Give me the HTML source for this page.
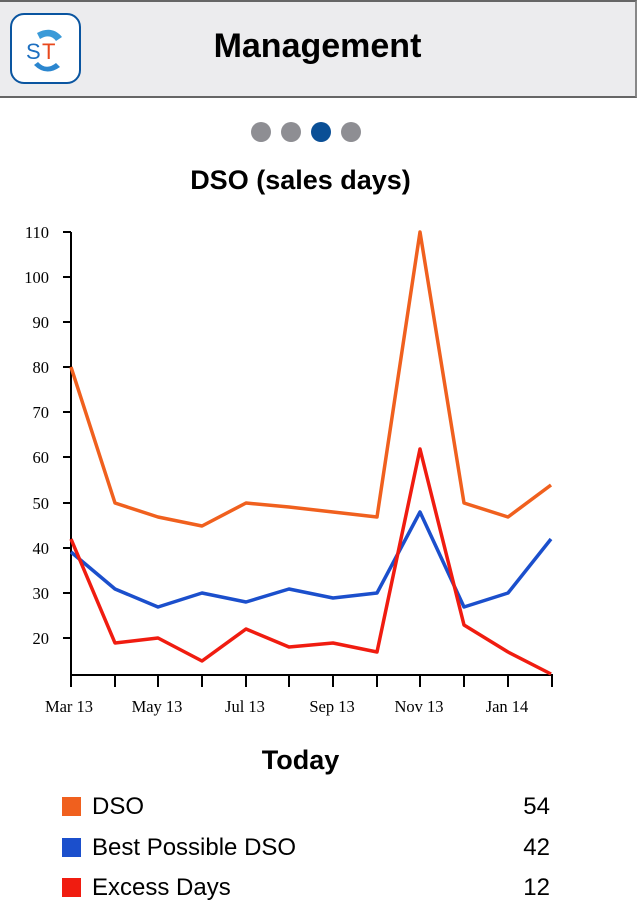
<!DOCTYPE html>
<html><head><style>
body{margin:0;width:637px;height:919px;background:#fff;font-family:"Liberation Sans",sans-serif;position:relative;overflow:hidden}
.hdr{position:absolute;left:0;top:0;width:635px;height:94px;background:#ececee;border-top:2px solid #666;border-bottom:2px solid #666;border-right:2px solid #888}
.logo{position:absolute;left:10px;top:11px;width:67px;height:67px;border:2px solid #0a55a0;border-radius:14px;background:#fff}
.t{position:absolute;font-weight:bold;color:#000;text-align:center;left:0}
.row{position:absolute;left:62px;width:488px;font-size:24px;height:30px}
.sq{position:absolute;left:0;top:4px;width:19px;height:19px}
.lab{position:absolute;left:30px;top:0}
.val{position:absolute;right:0;top:0}
</style></head><body>
<div class="hdr"><div class="logo">
<svg width="67" height="67"><path d="M25 18 Q40 10 50 22 L44 26 Q38 18 28 24 Z" fill="#3a9ad8"/><text x="14" y="44" font-size="22" fill="#1d6fc0" font-family="Liberation Sans">S</text><text x="30" y="44" font-size="22" fill="#e8481c" font-family="Liberation Sans">T</text><path d="M22 50 Q34 62 48 52 L44 48 Q34 56 26 47 Z" fill="#2b86cf"/></svg>
</div></div>
<div class="t" style="top:27px;font-size:34px;width:635px">Management</div>
<svg style="position:absolute;left:0;top:120px" width="637" height="25">
<circle cx="261" cy="12" r="10" fill="#8e8e93"/><circle cx="291" cy="12" r="10" fill="#8e8e93"/><circle cx="321" cy="12" r="10" fill="#0a4f96"/><circle cx="351" cy="12" r="10" fill="#8e8e93"/></svg>
<div class="t" style="top:165px;font-size:27px;width:601px">DSO (sales days)</div>
<svg style="position:absolute;left:0;top:0" width="637" height="730" font-family="Liberation Serif" font-size="16.5">
<g stroke="#000" stroke-width="2" fill="none">
<path d="M71 232 V675 H552 V687"/>
<path d="M63 232H71M63 277H71M63 322H71M63 367H71M63 412H71M63 457H71M63 503H71M63 548H71M63 593H71M63 638H71"/>
<path d="M71 675V687M115 675V687M158 675V687M202 675V687M246 675V687M289 675V687M333 675V687M377 675V687M420 675V687M464 675V687M508 675V687"/>
</g>
<g text-anchor="end">
<text x="49" y="238">110</text><text x="49" y="283">100</text><text x="49" y="328">90</text><text x="49" y="373">80</text><text x="49" y="418">70</text><text x="49" y="463">60</text><text x="49" y="509">50</text><text x="49" y="554">40</text><text x="49" y="599">30</text><text x="49" y="644">20</text></g>
<g text-anchor="middle">
<text x="69" y="712">Mar 13</text><text x="157" y="712">May 13</text><text x="245" y="712">Jul 13</text><text x="332" y="712">Sep 13</text><text x="419" y="712">Nov 13</text><text x="507" y="712">Jan 14</text></g>
<g fill="none" stroke-width="3.5" stroke-linejoin="round">
<polyline stroke="#f0601e" points="71,367 115,503 158,517 202,526 246,503 289,507 333,512 377,517 420,232 464,503 508,517 551,485"/>
<polyline stroke="#1b4fcc" points="71,552 115,589 158,607 202,593 246,602 289,589 333,598 377,593 420,512 464,607 508,593 551,539"/>
<polyline stroke="#f01c10" points="71,539 115,643 158,638 202,661 246,629 289,647 333,643 377,652 420,449 464,625 508,652 551,674"/>
</g></svg>
<div class="t" style="top:745px;font-size:27px;width:601px">Today</div>
<div class="row" style="top:793px"><div class="sq" style="background:#f0601e"></div><div class="lab">DSO</div><div class="val">54</div></div>
<div class="row" style="top:834px"><div class="sq" style="background:#1b4fcc"></div><div class="lab">Best Possible DSO</div><div class="val">42</div></div>
<div class="row" style="top:874px"><div class="sq" style="background:#f01c10"></div><div class="lab">Excess Days</div><div class="val">12</div></div>
</body></html>
